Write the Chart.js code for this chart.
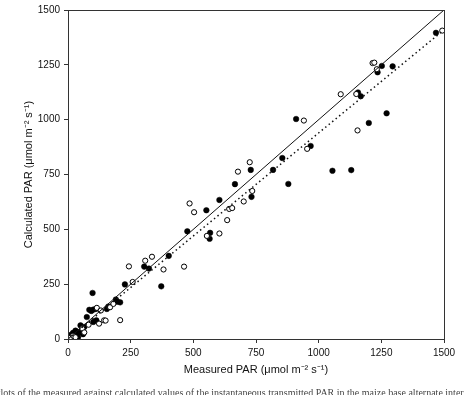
<!DOCTYPE html>
<html>
<head>
<meta charset="utf-8">
<script src="https://cdn.jsdelivr.net/npm/chart.js@4.4.1/dist/chart.umd.min.js"></script>
<style>
  html, body { margin: 0; padding: 0; background: #fff; overflow: hidden; }
  #wrap { position: relative; width: 474px; height: 395px; }
  #caption {
    position: absolute; left: -5px; top: 387px; white-space: nowrap;
    font-family: "Liberation Serif", "DejaVu Serif", serif; font-size: 10px; color: #444;
  }
</style>
</head>
<body>
<div id="wrap">
  <canvas id="parChart" width="474" height="395"></canvas>
  <div id="caption">Plots of the measured against calculated values of the instantaneous transmitted PAR in the maize base alternate inter</div>
</div>
<script>
// measured vs calculated PAR, closed symbols
const closedPoints = [
  [0, 0], [5, 8], [10, 18], [15, 5], [20, 28], [25, 12], [30, 38], [35, 20], [40, 8],
  [45, 30], [50, 62], [55, 42], [60, 22], [65, 55], [75, 100], [85, 133], [93, 128],
  [101, 134], [98, 210], [101, 78], [113, 85], [111, 137], [155, 137], [161, 148],
  [191, 180], [197, 170], [208, 167], [227, 249], [304, 330], [323, 321], [372, 240],
  [402, 379], [476, 491], [552, 587], [565, 457], [567, 484], [604, 634], [666, 706],
  [729, 771], [732, 648], [818, 771], [855, 825], [879, 707], [910, 1003], [968, 880],
  [1055, 767], [1130, 770], [1157, 1124], [1168, 1107], [1200, 985], [1235, 1216],
  [1252, 1245], [1271, 1029], [1295, 1243], [1468, 1396]
];

// open symbols
const openPoints = [
  [10, 5], [20, 15], [30, 8], [57, 48], [65, 30], [82, 65], [115, 142], [124, 70],
  [131, 130], [144, 85], [150, 84], [168, 145], [181, 160], [208, 86], [243, 331],
  [258, 260], [308, 357], [335, 375], [381, 317], [463, 330], [485, 618], [503, 578],
  [554, 470], [604, 481], [635, 542], [643, 593], [655, 597], [678, 763], [701, 627],
  [725, 806], [735, 675], [941, 996], [954, 867], [1088, 1116], [1150, 1117],
  [1155, 951], [1215, 1258], [1222, 1260], [1232, 1230], [1493, 1406]
];

// 1:1 line and regression line
const oneToOne = [[0, 0], [1500, 1500]];
const fitLine = [[0, 0], [1490, 1400]];

const axisTicks = [0, 250, 500, 750, 1000, 1250, 1500];

const toXY = arr => arr.map(p => ({ x: p[0], y: p[1] }));

const frame = {
  id: 'frame',
  afterDraw(chart) {
    const { ctx, chartArea: a } = chart;
    ctx.save();
    ctx.strokeStyle = '#333';
    ctx.lineWidth = 1;
    ctx.strokeRect(a.left + 0.5, a.top + 0.5, a.right - a.left, a.bottom - a.top);
    ctx.restore();
  }
};

const axisTitle = '(\u03bcmol m\u207b\u00b2 s\u207b\u00b9)';
const tickFont = { family: 'Liberation Sans', size: 10 };

new Chart(document.getElementById('parChart'), {
  type: 'scatter',
  data: {
    datasets: [
      {
        type: 'line',
        data: toXY(oneToOne),
        borderColor: '#111',
        borderWidth: 1,
        pointRadius: 0
      },
      {
        type: 'line',
        data: toXY(fitLine),
        borderColor: '#111',
        borderWidth: 1.5,
        borderDash: [1.5, 3],
        pointRadius: 0
      },
      {
        data: toXY(openPoints),
        pointRadius: 2.6,
        pointBorderWidth: 1,
        pointBorderColor: '#000',
        pointBackgroundColor: '#fff'
      },
      {
        data: toXY(closedPoints),
        pointRadius: 2.8,
        pointBorderWidth: 0.5,
        pointBorderColor: '#000',
        pointBackgroundColor: '#000'
      }
    ]
  },
  options: {
    responsive: false,
    animation: false,
    layout: { padding: { top: 4, right: 30, left: 18, bottom: 14 } },
    plugins: { legend: { display: false }, tooltip: { enabled: false } },
    scales: {
      x: {
        type: 'linear',
        min: 0, max: 1500,
        afterBuildTicks: s => { s.ticks = axisTicks.map(v => ({ value: v })); },
        afterFit: s => { s.height = 42; },
        grid: { drawOnChartArea: false, drawTicks: true, tickLength: 4, color: '#333' },
        border: { color: '#333' },
        ticks: { color: '#111', font: tickFont, padding: 4, maxRotation: 0, callback: v => String(v) },
        title: {
          display: true,
          text: 'Measured PAR ' + axisTitle,
          color: '#111',
          font: { family: 'Liberation Sans', size: 11 },
          padding: { top: 2 }
        }
      },
      y: {
        type: 'linear',
        min: 0, max: 1500,
        afterBuildTicks: s => { s.ticks = axisTicks.map(v => ({ value: v })); },
        afterFit: s => { s.width = 50; },
        grid: { drawOnChartArea: false, drawTicks: true, tickLength: 4, color: '#333' },
        border: { color: '#333' },
        ticks: { color: '#111', font: tickFont, padding: 4, callback: v => String(v) },
        title: {
          display: true,
          text: 'Calculated PAR ' + axisTitle,
          color: '#111',
          font: { family: 'Liberation Sans', size: 11 },
          padding: { bottom: 0 }
        }
      }
    }
  },
  plugins: [frame]
});
</script>
</body>
</html>
